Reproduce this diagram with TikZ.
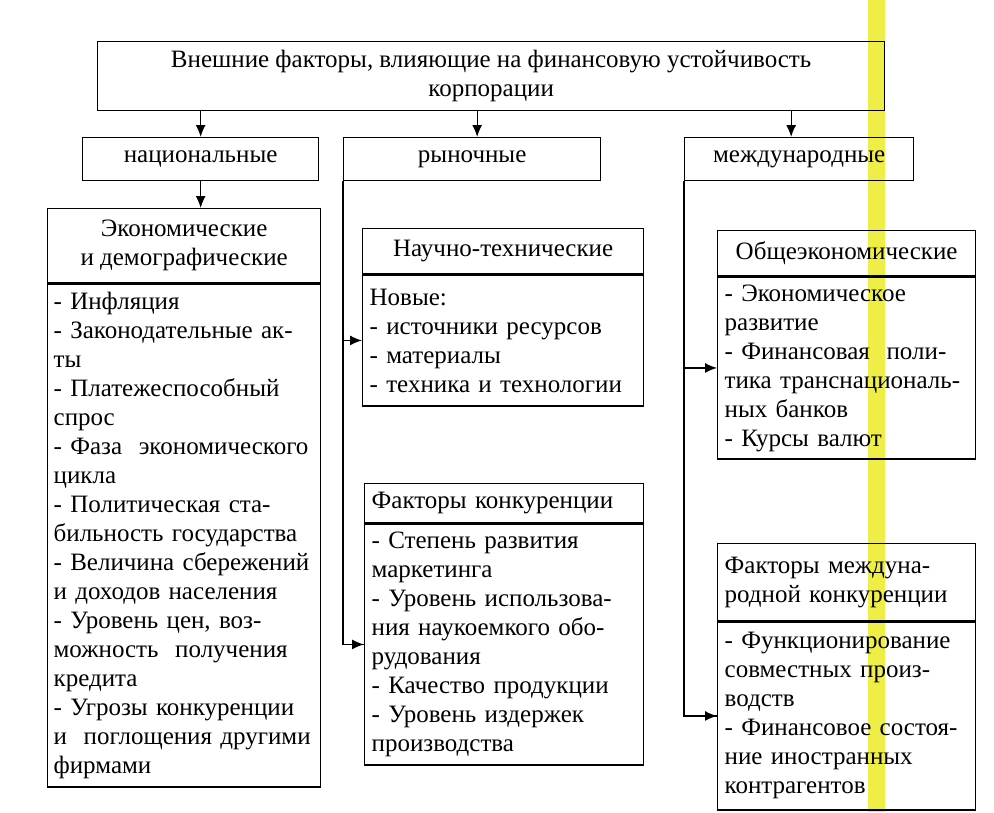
\documentclass[tikz,border=0pt]{standalone}
\usepackage{fontspec}
\setmainfont{Liberation Serif}
\usepackage{tikz}
\usetikzlibrary{arrows.meta}
\definecolor{marker}{RGB}{238,238,70}

\tikzset{
  box/.style={draw,line width=1.3pt,inner sep=0pt,align=center,font=\rmfamily\fontsize{25}{29}\selectfont},
  txt/.style={box,align=left,inner xsep=7pt},
  arr/.style={line width=1.3pt,-{Latex[length=12pt,width=10pt]}}
}

\begin{document}
\begin{tikzpicture}[x=1pt,y=-1pt]
\useasboundingbox (0,0) rectangle (994,812);
\fill[marker] (868,0) rectangle (885,812);
% top
\node[box,minimum width=787,minimum height=69,anchor=north west] (top) at (97,41) {Внешние факторы, влияющие на финансовую устойчивость\\корпорации};
\node[box,minimum width=236,minimum height=43,anchor=north west] (nat) at (82,137) {национальные};
\node[box,minimum width=257,minimum height=43,anchor=north west] (mkt) at (343,137) {рыночные};
\node[box,minimum width=229,minimum height=43,anchor=north west] (intl) at (684,137) {международные};
\draw[arr] (nat.north |- top.south) -- (nat.north);
\draw[arr] ([xshift=5]mkt.north |- top.south) -- ([xshift=5]mkt.north);
\draw[arr] ([xshift=-8]intl.north |- top.south) -- ([xshift=-8]intl.north);
% national
\node[box,minimum width=273,minimum height=74,anchor=north west] (econh) at (47,208) {Экономические\\и демографические};
\node[txt,inner xsep=6pt,text width=261,minimum height=503,anchor=north west] (econb) at (econh.south west) {- Инфляция\\- Законодательные ак-\\ты\\- Платежеспособный\\спрос\\- Фаза\ \ экономического\\цикла\\- Политическая ста-\\бильность государства\\- Величина сбережений\\и доходов населения\\- Уровень цен, воз-\\можность\ \ получения\\кредита\\- Угрозы конкуренции\\и\ \ поглощения другими\\фирмами};
\draw[arr] (nat.south) -- (nat.south |- econh.north);
% market
\node[box,minimum width=281,minimum height=45,anchor=north west] (scih) at (362,228) {Научно-технические};
\node[txt,text width=267,minimum height=131,anchor=north west] (scib) at (scih.south west) {Новые:\\- источники ресурсов\\- материалы\\- техника и технологии};
\node[txt,text width=265,minimum height=39,anchor=north west] (comph) at (364,483) {Факторы конкуренции};
\node[txt,text width=265,minimum height=241,anchor=north west] (compb) at (comph.south west) {- Степень развития\\маркетинга\\- Уровень использова-\\ния наукоемкого обо-\\рудования\\- Качество продукции\\- Уровень издержек\\производства};
\draw[line width=1.3pt] (mkt.south west) |- (compb.west);
\draw[arr] (mkt.south west |- compb.west) -- (compb.west);
\draw[arr] (mkt.south west |- scib.west) -- (scib.west);
% international
\node[box,minimum width=258,minimum height=45,anchor=north west] (genh) at (717,230) {Общеэкономические};
\node[txt,text width=244,minimum height=182,anchor=north west] (genb) at (genh.south west) {- Экономическое\\развитие\\- Финансовая\ \ поли-\\тика транснациональ-\\ных банков\\- Курсы валют};
\node[txt,text width=244,minimum height=77,anchor=north west] (wcomph) at (717,543) {Факторы междуна-\\родной конкуренции};
\node[txt,text width=244,minimum height=188,anchor=north west] (wcompb) at (wcomph.south west) {- Функционирование\\совместных произ-\\водств\\- Финансовое состоя-\\ние иностранных\\контрагентов};
\draw[line width=1.3pt] (intl.south west) |- (wcompb.west);
\draw[arr] (intl.south west |- wcompb.west) -- (wcompb.west);
\draw[arr] (intl.south west |- genb.west) -- (genb.west);
\end{tikzpicture}
\end{document}
